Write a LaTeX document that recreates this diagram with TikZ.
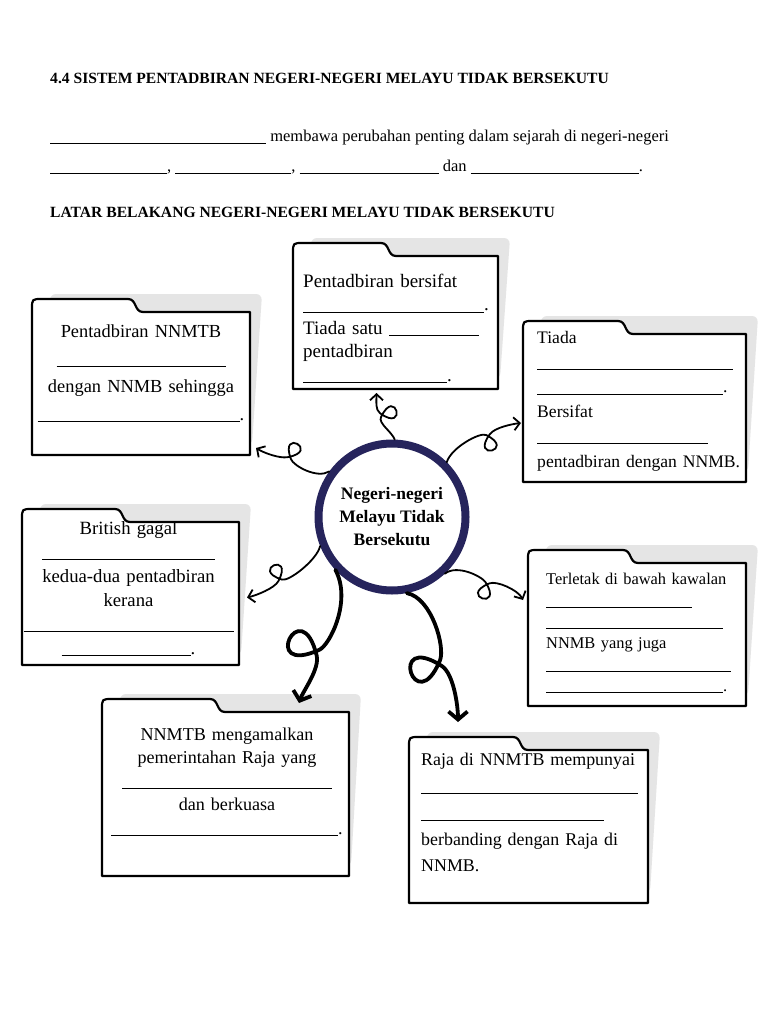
\documentclass[tikz,border=0pt]{standalone}
\usepackage{fontspec}
\setmainfont{Liberation Serif}
\usepackage{xcolor}
\usepackage{tikz}
\usetikzlibrary{
    shapes,
    positioning,
    calc,
    arrows.meta
}
\definecolor{hubnavy}{RGB}{38,36,92}
% blank line to fill in
\newcommand{\blank}[1]{\rule[-2pt]{#1pt}{0.9pt}}
% folder outline round a body node: #1 node, #2 tab width
\newcommand{\folder}[2]{%
  \fill[foldshade] ([shift={(18,-18)}]#1.north west)
    -- ([shift={(12,-18)}]#1.north east)
    -- ([shift={(2,-10)}]#1.south east)
    -- ([shift={(18,-10)}]#1.south west) -- cycle;
  \draw[foldline] (#1.south west) -- ([shift={(0,-3)}]#1.north west)
    .. controls ([shift={(0,-13)}]#1.north west) .. ([shift={(10,-13)}]#1.north west)
    -- ([shift={(#2-12,-13)}]#1.north west)
    .. controls ([shift={(#2-3,-13)}]#1.north west) and ([shift={(#2-6,0)}]#1.north west) .. ([shift={(#2+3,0)}]#1.north west)
    -- (#1.north east) -- (#1.south east) -- cycle;
}
\tikzset{
  head/.style = {
      font=\fontsize{15.6}{18}\selectfont\bfseries,
      inner sep=0pt,
      anchor=base west
  },
  sentence/.style = {
      font=\fontsize{16.5}{20}\selectfont,
      inner sep=0pt,
      anchor=base west
  },
  hub/.style = {
      circle,
      draw=hubnavy,
      line width=8pt,
      minimum size=147pt,
      inner sep=0pt,
      align=center,
      font=\fontsize{17.5}{23}\selectfont\bfseries
  },
  folder/.style = {
      inner sep=0pt,
      outer sep=0pt,
      anchor=north west
  },
  foldline/.style = {
      draw,
      line width=2.2pt,
      fill=white,
      line join=round
  },
  foldshade/.style = {
      fill=gray!20,
      rounded corners=6pt
  },
  note/.style = {
      inner sep=0pt,
      align=left,
      anchor=base west
  },
  midnote/.style = {
      inner sep=0pt,
      align=center,
      anchor=base
  },
  curl/.style = {
      line width=1.8pt,
      line cap=round,
      -{Straight Barb[length=6pt,width=13pt]}
  },
  bigcurl/.style = {
      curl,
      line width=3.8pt,
      -{Straight Barb[length=8pt,width=19pt]}
  }
}

\begin{document}
\begin{tikzpicture}[x=1pt, y=-1pt]
    \useasboundingbox[fill=white] (0,0) rectangle (768,1024);
    % Headings
    \node[head] (judul) at (50,84) {4.4 SISTEM PENTADBIRAN NEGERI-NEGERI MELAYU TIDAK BERSEKUTU};
    \node[sentence] (ayat1) at (50,142) {\blank{216} membawa perubahan penting dalam sejarah di negeri-negeri};
    \node[sentence] (ayat2) at (50,172) {\blank{117}, \blank{116}, \blank{139} dan \blank{168}.};
    \node[head] (latar) at (50,218) {LATAR BELAKANG NEGERI-NEGERI MELAYU TIDAK BERSEKUTU};
    % Folders
    \node[folder, minimum width=205pt, minimum height=133pt] (ciri) at (293,256) {};
    \folder{ciri}{100}
    \node[note, text width=192pt, font=\fontsize{19}{23.5}\selectfont] (ciri-t) at (303,287)
        {Pentadbiran bersifat\\ \blank{181}.\\ Tiada satu \blank{90}\\ pentadbiran\\ \blank{144}.};
    \node[folder, minimum width=218pt, minimum height=143pt] (hubungan) at (32,312) {};
    \folder{hubungan}{108}
    \node[midnote, text width=215pt, font=\fontsize{18.4}{27.7}\selectfont] (hubungan-t) at (141,337)
        {Pentadbiran NNMTB\\ \blank{169}\\ dengan NNMB sehingga\\ \blank{202}.};
    \node[folder, minimum width=223pt, minimum height=148pt] (tiada) at (523,334) {};
    \folder{tiada}{107}
    \node[note, text width=205pt, font=\fontsize{17.6}{24.8}\selectfont] (tiada-t) at (537,343)
        {Tiada\\ \blank{196}\\ \blank{186}.\\ Bersifat\\ \blank{171}\\ pentadbiran dengan NNMB.};
    \node[folder, minimum width=217pt, minimum height=143pt] (gagal) at (22,522) {};
    \folder{gagal}{105}
    \node[midnote, text width=214pt, font=\fontsize{18.7}{24}\selectfont] (gagal-t) at (128.5,534)
        {British gagal\\ \blank{173}\\ kedua-dua pentadbiran\\ kerana\\ \blank{210}\\ \blank{129}.};
    \node[folder, minimum width=218pt, minimum height=143pt] (kawalan) at (528,563) {};
    \folder{kawalan}{107}
    \node[note, text width=195pt, font=\fontsize{16.4}{21.4}\selectfont] (kawalan-t) at (546,584)
        {Terletak di bawah kawalan\\ \blank{146}\\ \blank{177}\\ NNMB yang juga\\ \blank{185}\\ \blank{177}.};
    \node[folder, minimum width=247pt, minimum height=164pt] (pemerintahan) at (102,712) {};
    \folder{pemerintahan}{120}
    \node[midnote, text width=240pt, font=\fontsize{18.1}{23.5}\selectfont] (pemerintahan-t) at (227,740)
        {NNMTB mengamalkan\\ pemerintahan Raja yang\\ \blank{210}\\ dan berkuasa\\ \blank{227}.};
    \node[folder, minimum width=239pt, minimum height=153pt] (raja) at (409,750) {};
    \folder{raja}{116}
    \node[note, text width=222pt, font=\fontsize{17.9}{26.7}\selectfont] (raja-t) at (421,765)
        {Raja di NNMTB mempunyai\\ \blank{217}\\ \blank{183}\\ berbanding dengan Raja di\\ NNMB.};
    % Hub
    \node[hub] (hub) at (392,517) {Negeri-negeri\\Melayu Tidak\\Bersekutu};
    % Edges
    \draw[curl] (hub.88) .. controls (391.7,431.5) and (378,423.4) .. (381,417.1)
        .. controls (395.7,386) and (407.9,433.3) .. (380,413.2)
        .. controls (375.1,409.7) and (376.5,401) .. ([shift={(-19,4)}]ciri.south);
    \draw[curl] (hub.144) .. controls (317,479) and (293.5,465.8) .. (291,459.2)
        .. controls (278.8,427.2) and (321.3,451) .. (287.5,457.2)
        .. controls (279.7,458.6) and (264,453) .. ([shift={(6,-7)}]hubungan.south east);
    \draw[curl] (hub.45) .. controls (450.8,448) and (479.8,431.9) .. (486.1,435)
        .. controls (516.8,450.2) and (469.5,461.4) .. (490,434)
        .. controls (494.8,427.6) and (512,424) .. ([shift={(-2,15)}]tiada.west);
    \draw[curl] (hub.202) .. controls (317,560) and (288.8,581.7) .. (282.1,579.6)
        .. controls (249.4,569.4) and (294.3,550.9) .. (278.4,581.1)
        .. controls (274.7,588.2) and (256,595.5) .. ([shift={(8,4)}]gagal.east);
    \draw[curl] (hub.313) .. controls (457,564) and (481.7,576.3) .. (485.5,582.2)
        .. controls (504,611) and (457.6,596.4) .. (489.3,583.4)
        .. controls (496.7,580.4) and (518,590) .. ([shift={(-5,37)}]kawalan.north west);
    \draw[bigcurl] (hub.223) .. controls (352,600) and (330.1,645) .. (319.2,649.9)
        .. controls (259.2,676.8) and (301,591.4) .. (316.6,655.3)
        .. controls (320,668.9) and (303,691) .. ([shift={(-50,-9)}]pemerintahan.north east);
    \draw[bigcurl] (hub.281) .. controls (432,598) and (445.3,647.3) .. (440,660.3)
        .. controls (415.2,720.8) and (386.8,630.7) .. (441.8,666)
        .. controls (453.6,673.6) and (458,706) .. ([shift={(49,-28)}]raja.north west);
\end{tikzpicture}
\end{document}
